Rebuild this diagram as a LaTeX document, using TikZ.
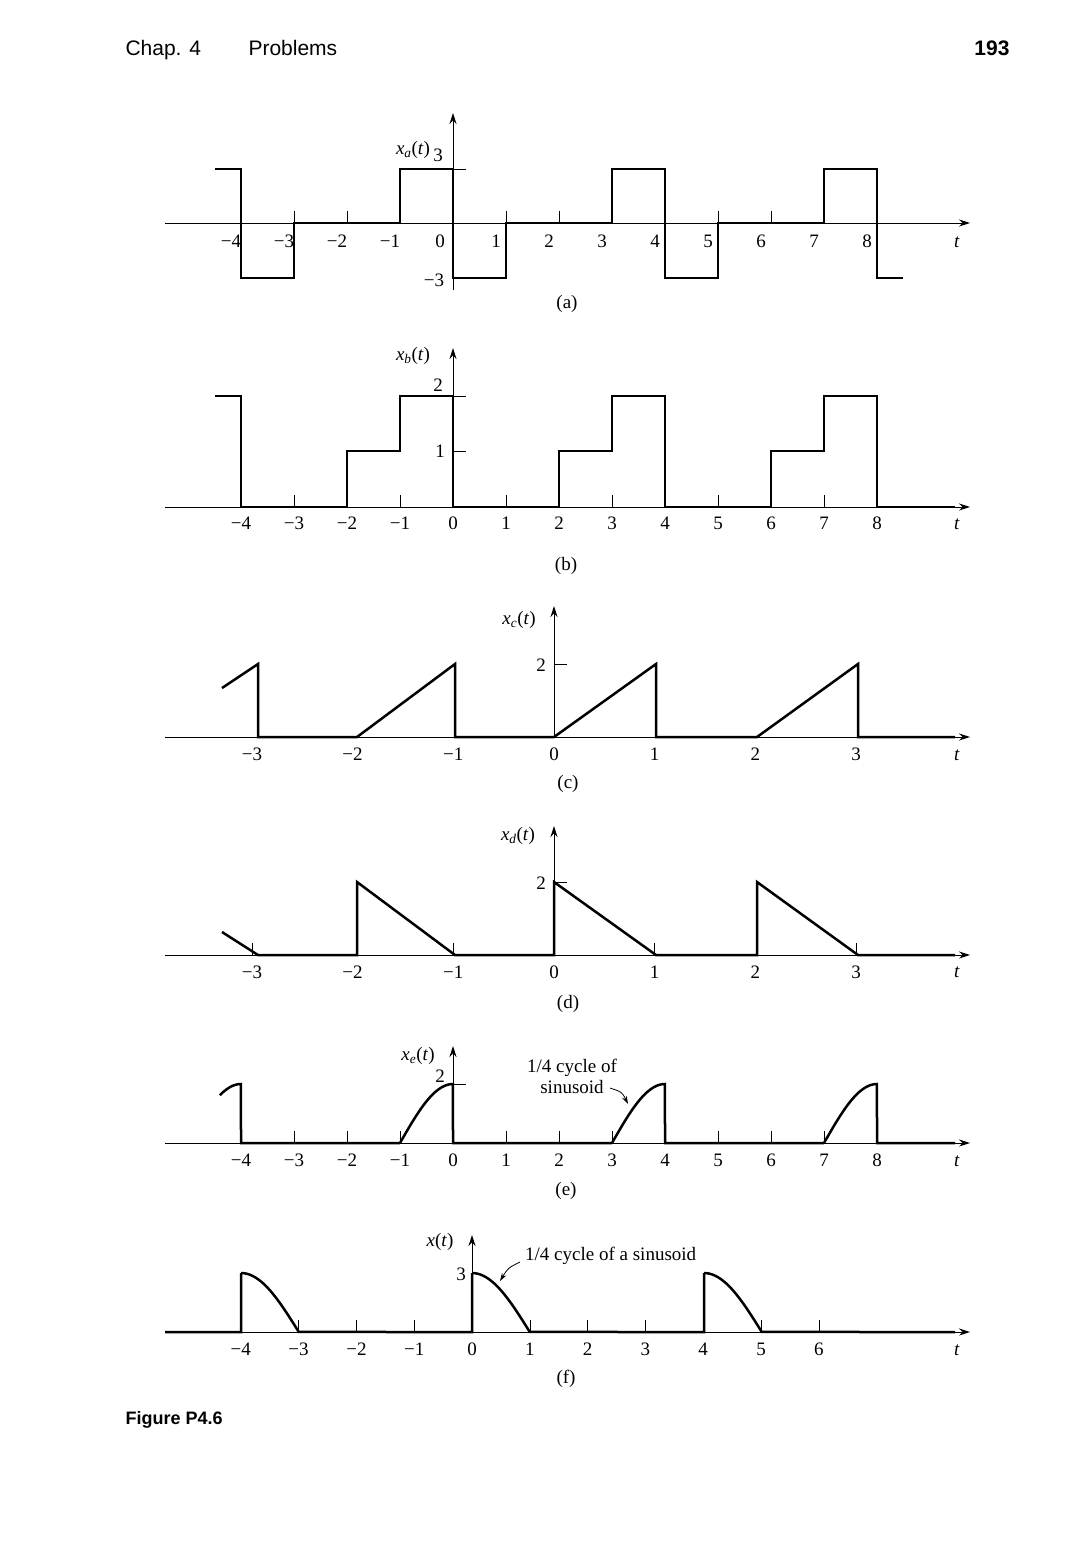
\documentclass[tikz,border=0pt]{standalone}
\usepackage{fontspec}
\setmainfont{Liberation Serif}
\newfontfamily\hd{Liberation Sans}
\usetikzlibrary{arrows.meta}
\tikzset{wave/.style={line width=2.5pt,line join=miter},
axis/.style={line width=1pt,-{Stealth[length=11pt,width=7pt]}},
tk/.style={line width=0.6pt},
lb/.style={font=\fontsize{19}{21}\selectfont,inner sep=1pt}}
\newcommand{\ti}{\textit{t}}
\begin{document}
\begin{tikzpicture}[x=1pt,y=-1pt]
\useasboundingbox (0,0) rectangle (1080,1559);
\node[anchor=base west,font=\hd\fontsize{21}{23}\selectfont] at (122,55) {Chap. 4};
\node[anchor=base west,font=\hd\fontsize{21}{23}\selectfont] at (245,55) {Problems};
\node[anchor=base east,font=\hd\bfseries\fontsize{21}{23}\selectfont] at (1013,55) {193};
\node[anchor=west,font=\hd\bfseries\fontsize{18}{20}\selectfont] at (122,1420) {Figure P4.6};
% (a)
\draw[axis] (165,223) -- (970,223);
\draw[axis] (453,290) -- (453,113);
\foreach \k in {-4,...,8}{\ifnum\k=0\else\draw[tk] ({453+53*\k},223) -- ({453+53*\k},211);\fi}
\foreach \k/\s in {-4/−4,-3/−3,-2/−2,-1/−1,1/1,2/2,3/3,4/4,5/5,6/6,7/7,8/8}{\node[lb] at ({453+53*\k-10},241) {\s};}
\node[lb] at (440,241) {0};
\draw[tk] (453,169) -- (466,169);
\node[lb] at (438,155) {3};
\node[lb] at (434,280) {−3};
\node[lb] at (413,150) {\textit{x}\textsubscript{\textit{a}}(\ti)};
\node[lb] at (957,242) {\ti};
\node[lb] at (567,304) {(a)};
\draw[wave] (215,169) -| (241,278) -| (294,223) -| (400,169) -| (453,278) -| (506,223) -| (612,169) -| (665,278) -| (718,223) -| (824,169) -| (877,278) -- (903,278);
% (b)
\draw[axis] (165,507) -- (970,507);
\draw[axis] (453,507) -- (453,348);
\foreach \k in {-4,...,8}{\ifnum\k=0\else\draw[tk] ({453+53*\k},507) -- ({453+53*\k},495);\fi}
\foreach \k/\s in {-4/−4,-3/−3,-2/−2,-1/−1,0/0,1/1,2/2,3/3,4/4,5/5,6/6,7/7,8/8}{\node[lb] at ({453+53*\k},523) {\s};}
\draw[tk] (453,451) -- (466,451);
\draw[tk] (453,396) -- (466,396);
\node[lb] at (440,451) {1};
\node[lb] at (438,385) {2};
\node[lb] at (413,356) {\textit{x}\textsubscript{\textit{b}}(\ti)};
\node[lb] at (957,524) {\ti};
\node[lb] at (566,566) {(b)};
\draw[wave] (215,396) -| (241,507) -| (347,451) -| (400,396) -| (453,507) -| (559,451) -| (612,396) -| (665,507) -| (771,451) -| (824,396) -| (877,507) -- (955,507);
% (c)
\draw[axis] (165,737) -- (970,737);
\draw[axis] (554,737) -- (554,606);
\foreach \k/\s in {-3/−3,-2/−2,-1/−1,0/0,1/1,2/2,3/3}{\node[lb] at ({554+100.7*\k},754) {\s};}
\draw[tk] (554,664) -- (567,664);
\node[lb] at (541,665) {2};
\node[lb] at (519,620) {\textit{x}\textsubscript{\textit{c}}(\ti)};
\node[lb] at (957,755) {\ti};
\node[lb] at (568,784) {(c)};
\draw[wave] (222,688) -- (258,664) -- (258,737) -- (357,737) -- (455,664) -- (455,737) -- (554,737) -- (656,664) -- (656,737) -- (757,737) -- (858,664) -- (858,737) -- (955,737);
% (d)
\draw[axis] (165,955) -- (970,955);
\draw[axis] (554,955) -- (554,826);
\foreach \k in {-3,-1,1,3}{\draw[tk] ({554+100.7*\k},955) -- ({554+100.7*\k},943);}
\foreach \k/\s in {-3/−3,-2/−2,-1/−1,0/0,1/1,2/2,3/3}{\node[lb] at ({554+100.7*\k},972) {\s};}
\draw[tk] (554,882) -- (567,882);
\node[lb] at (541,883) {2};
\node[lb] at (518,836) {\textit{x}\textsubscript{\textit{d}}(\ti)};
\node[lb] at (957,972) {\ti};
\node[lb] at (568,1004) {(d)};
\draw[wave] (222,932) -- (258,955) -- (357,955) -- (357,882) -- (455,955) -- (554,955) -- (554,882) -- (656,955) -- (757,955) -- (757,882) -- (858,955) -- (955,955);
% (e)
\draw[axis] (165,1143) -- (970,1143);
\draw[axis] (453,1143) -- (453,1046);
\foreach \k in {-4,...,8}{\ifnum\k=0\else\draw[tk] ({453+53*\k},1143) -- ({453+53*\k},1131);\fi}
\foreach \k/\s in {-4/−4,-3/−3,-2/−2,-1/−1,0/0,1/1,2/2,3/3,4/4,5/5,6/6,7/7,8/8}{\node[lb] at ({453+53*\k},1160) {\s};}
\draw[tk] (453,1084) -- (466,1084);
\node[lb] at (440,1076) {2};
\node[lb] at (418,1056) {\textit{x}\textsubscript{\textit{e}}(\ti)};
\node[lb] at (957,1161) {\ti};
\node[lb] at (566,1191) {(e)};
\draw[wave,domain=0.6:1,samples=20] plot ({188+53*\x},{1143-59*sin(90*\x)}) -- (241,1143) -- (400,1143);
\draw[wave,domain=0:1,samples=30] (400,1143) plot ({400+53*\x},{1143-59*sin(90*\x)}) -- (453,1143) -- (612,1143);
\draw[wave,domain=0:1,samples=30] plot ({612+53*\x},{1143-59*sin(90*\x)}) -- (665,1143) -- (824,1143);
\draw[wave,domain=0:1,samples=30] plot ({824+53*\x},{1143-59*sin(90*\x)}) -- (877,1143) -- (955,1143);
\node[lb,align=center] (ne) at (572,1076) {1/4 cycle of\\sinusoid};
\draw[line width=0.8pt,-{Stealth[length=8pt,width=5pt]}] (610,1088) .. controls (622,1092) .. (628,1104);
% (f)
\draw[axis] (165,1332) -- (970,1332);
\draw[axis] (472,1332) -- (472,1235);
\foreach \k in {-4,...,6}{\ifnum\k=0\else\draw[tk] ({472+57.8*\k},1332) -- ({472+57.8*\k},1320);\fi}
\foreach \k/\s in {-4/−4,-3/−3,-2/−2,-1/−1,0/0,1/1,2/2,3/3,4/4,5/5,6/6}{\node[lb] at ({472+57.8*\k},1349) {\s};}
\node[lb] at (461,1274) {3};
\node[lb] at (440,1242) {\textit{x}(\ti)};
\node[lb] at (957,1350) {\ti};
\node[lb] at (566,1379) {(f)};
\draw[wave,domain=0:1,samples=30] (165,1332) -- (241,1332) -- (241,1273) plot ({241+57.8*\x},{1332-59*cos(90*\x)}) -- (472,1332) -- (472,1273) plot ({472+57.8*\x},{1332-59*cos(90*\x)}) -- (704,1332) -- (704,1273) plot ({704+57.8*\x},{1332-59*cos(90*\x)}) -- (955,1332);
\node[lb,anchor=west] (nf) at (524,1256) {1/4 cycle of a sinusoid};
\draw[line width=0.8pt,-{Stealth[length=8pt,width=5pt]}] (520,1262) .. controls (508,1268) .. (500,1281);
\end{tikzpicture}
\end{document}
